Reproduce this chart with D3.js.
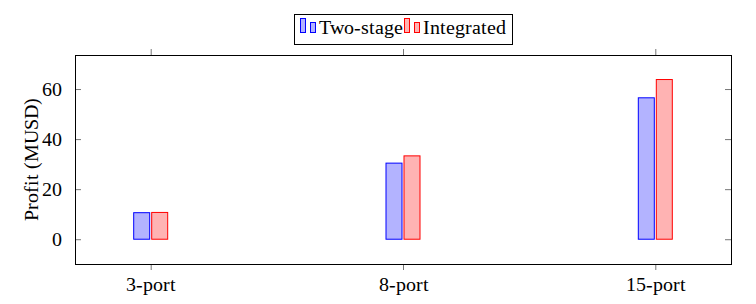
<!DOCTYPE html>
<html>
<head>
<meta charset="utf-8">
<script src="https://cdn.jsdelivr.net/npm/d3@7"></script>
<style>
  @font-face {
    font-family: "ChartSerif";
    src: local("Liberation Serif"), local("LiberationSerif"), local("LiberationSerif-Regular"), local("Times New Roman");
  }
  body { margin: 0; }
</style>
</head>
<body>
<script>
// Data
const categories = ["3-port", "8-port", "15-port"];
const seriesNames = ["Two-stage", "Integrated"];
const twoStage = [10.6, 30.4, 56.5];
const integrated = [10.7, 33.3, 63.8];
const yTicks = [0, 20, 40, 60];

const width = 756, height = 304;
const margin = { left: 75, right: 25, top: 55, bottom: 40 };
const plotW = width - margin.left - margin.right;
const plotH = height - margin.top - margin.bottom;

const fontFamily = "ChartSerif, 'Liberation Serif', 'Times New Roman'";
const fontSize = 20;

const seriesColors = [
    { stroke: "#0000ff", fill: "#b3b3ff" },
    { stroke: "#ff0000", fill: "#ffb3b3" }
];

const svg = d3.select("body")
    .append("svg")
    .attr("width", width)
    .attr("height", height)
    .style("font-family", fontFamily);

const g = svg.append("g")
    .attr("transform", `translate(${margin.left},${margin.top})`);

// Scales
const x = d3.scaleLinear()
    .domain([-0.3, categories.length - 1 + 0.3])
    .range([0, plotW]);

const y = d3.scaleLinear()
    .domain([-9.9, 73.6])
    .range([plotH, 0]);

const barWidth = 16;
const barShift = 9;

// Bars
const series = [twoStage, integrated];
series.forEach((values, si) => {
    const shift = si === 0 ? -barShift : barShift;
    g.selectAll(`.bar-${si}`)
        .data(values)
        .enter().append("rect")
        .attr("class", `bar-${si}`)
        .attr("x", (d, i) => x(i) + shift - barWidth / 2)
        .attr("y", d => y(d))
        .attr("width", barWidth)
        .attr("height", d => y(0) - y(d))
        .style("fill", seriesColors[si].fill)
        .style("stroke", seriesColors[si].stroke)
        .style("stroke-width", 1);
});

// Axes: y on both sides with inward ticks, x ticks outward top and bottom
const yLeft = d3.axisLeft(y).tickValues(yTicks).tickSizeInner(-6).tickSizeOuter(0).tickPadding(13);
const yRight = d3.axisRight(y).tickValues(yTicks).tickSizeInner(-6).tickSizeOuter(0).tickFormat("");
const xBottom = d3.axisBottom(x).tickValues(d3.range(categories.length))
    .tickFormat(i => categories[i]).tickSizeInner(6).tickSizeOuter(0).tickPadding(7);
const xTop = d3.axisTop(x).tickValues(d3.range(categories.length))
    .tickSizeInner(6).tickSizeOuter(0).tickFormat("");

const axisStyle = sel => {
    sel.attr("font-family", null).attr("font-size", null);
    sel.select(".domain").remove();
    sel.selectAll(".tick line").attr("stroke", "#777");
    sel.selectAll(".tick text")
        .style("font-family", fontFamily)
        .style("font-size", fontSize + "px")
        .attr("fill", "#000");
};

g.append("g").call(yLeft).call(axisStyle);
g.append("g").attr("transform", `translate(${plotW},0)`).call(yRight).call(axisStyle);
g.append("g").attr("transform", `translate(0,${plotH})`).call(xBottom).call(axisStyle);
g.append("g").call(xTop).call(axisStyle);

// Frame
g.append("rect")
    .attr("x", 0.5).attr("y", 0.5)
    .attr("width", plotW).attr("height", plotH)
    .style("fill", "none")
    .style("stroke", "#000")
    .style("stroke-width", 1);

// Y axis label
svg.append("text")
    .attr("transform", `translate(38,${margin.top + plotH / 2}) rotate(-90)`)
    .attr("text-anchor", "middle")
    .style("font-family", fontFamily)
    .style("font-size", fontSize + "px")
    .text("Profit (MUSD)");

// Legend, placed as in the reference
const legendX = 294, legendY = 14, legendW = 218, legendH = 30;
const legendItemX = [6, 110];
const legend = svg.append("g").attr("transform", `translate(${legendX},0)`);
legend.append("rect")
    .attr("x", 0.5).attr("y", legendY + 0.5)
    .attr("width", legendW).attr("height", legendH)
    .style("fill", "#fff")
    .style("stroke", "#000")
    .style("stroke-width", 1);
seriesNames.forEach((name, si) => {
    const item = legend.append("g").attr("transform", `translate(${legendItemX[si]},0)`);
    item.append("rect").attr("x", 0.5).attr("y", legendY + 4.5).attr("width", 5).attr("height", 14)
        .style("fill", seriesColors[si].fill).style("stroke", seriesColors[si].stroke);
    item.append("rect").attr("x", 10.5).attr("y", legendY + 8.5).attr("width", 5).attr("height", 10)
        .style("fill", seriesColors[si].fill).style("stroke", seriesColors[si].stroke);
    item.append("text")
        .attr("x", 19).attr("y", legendY + 20)
        .style("font-family", fontFamily)
        .style("font-size", fontSize + "px")
        .text(name);
});
</script>
</body>
</html>
